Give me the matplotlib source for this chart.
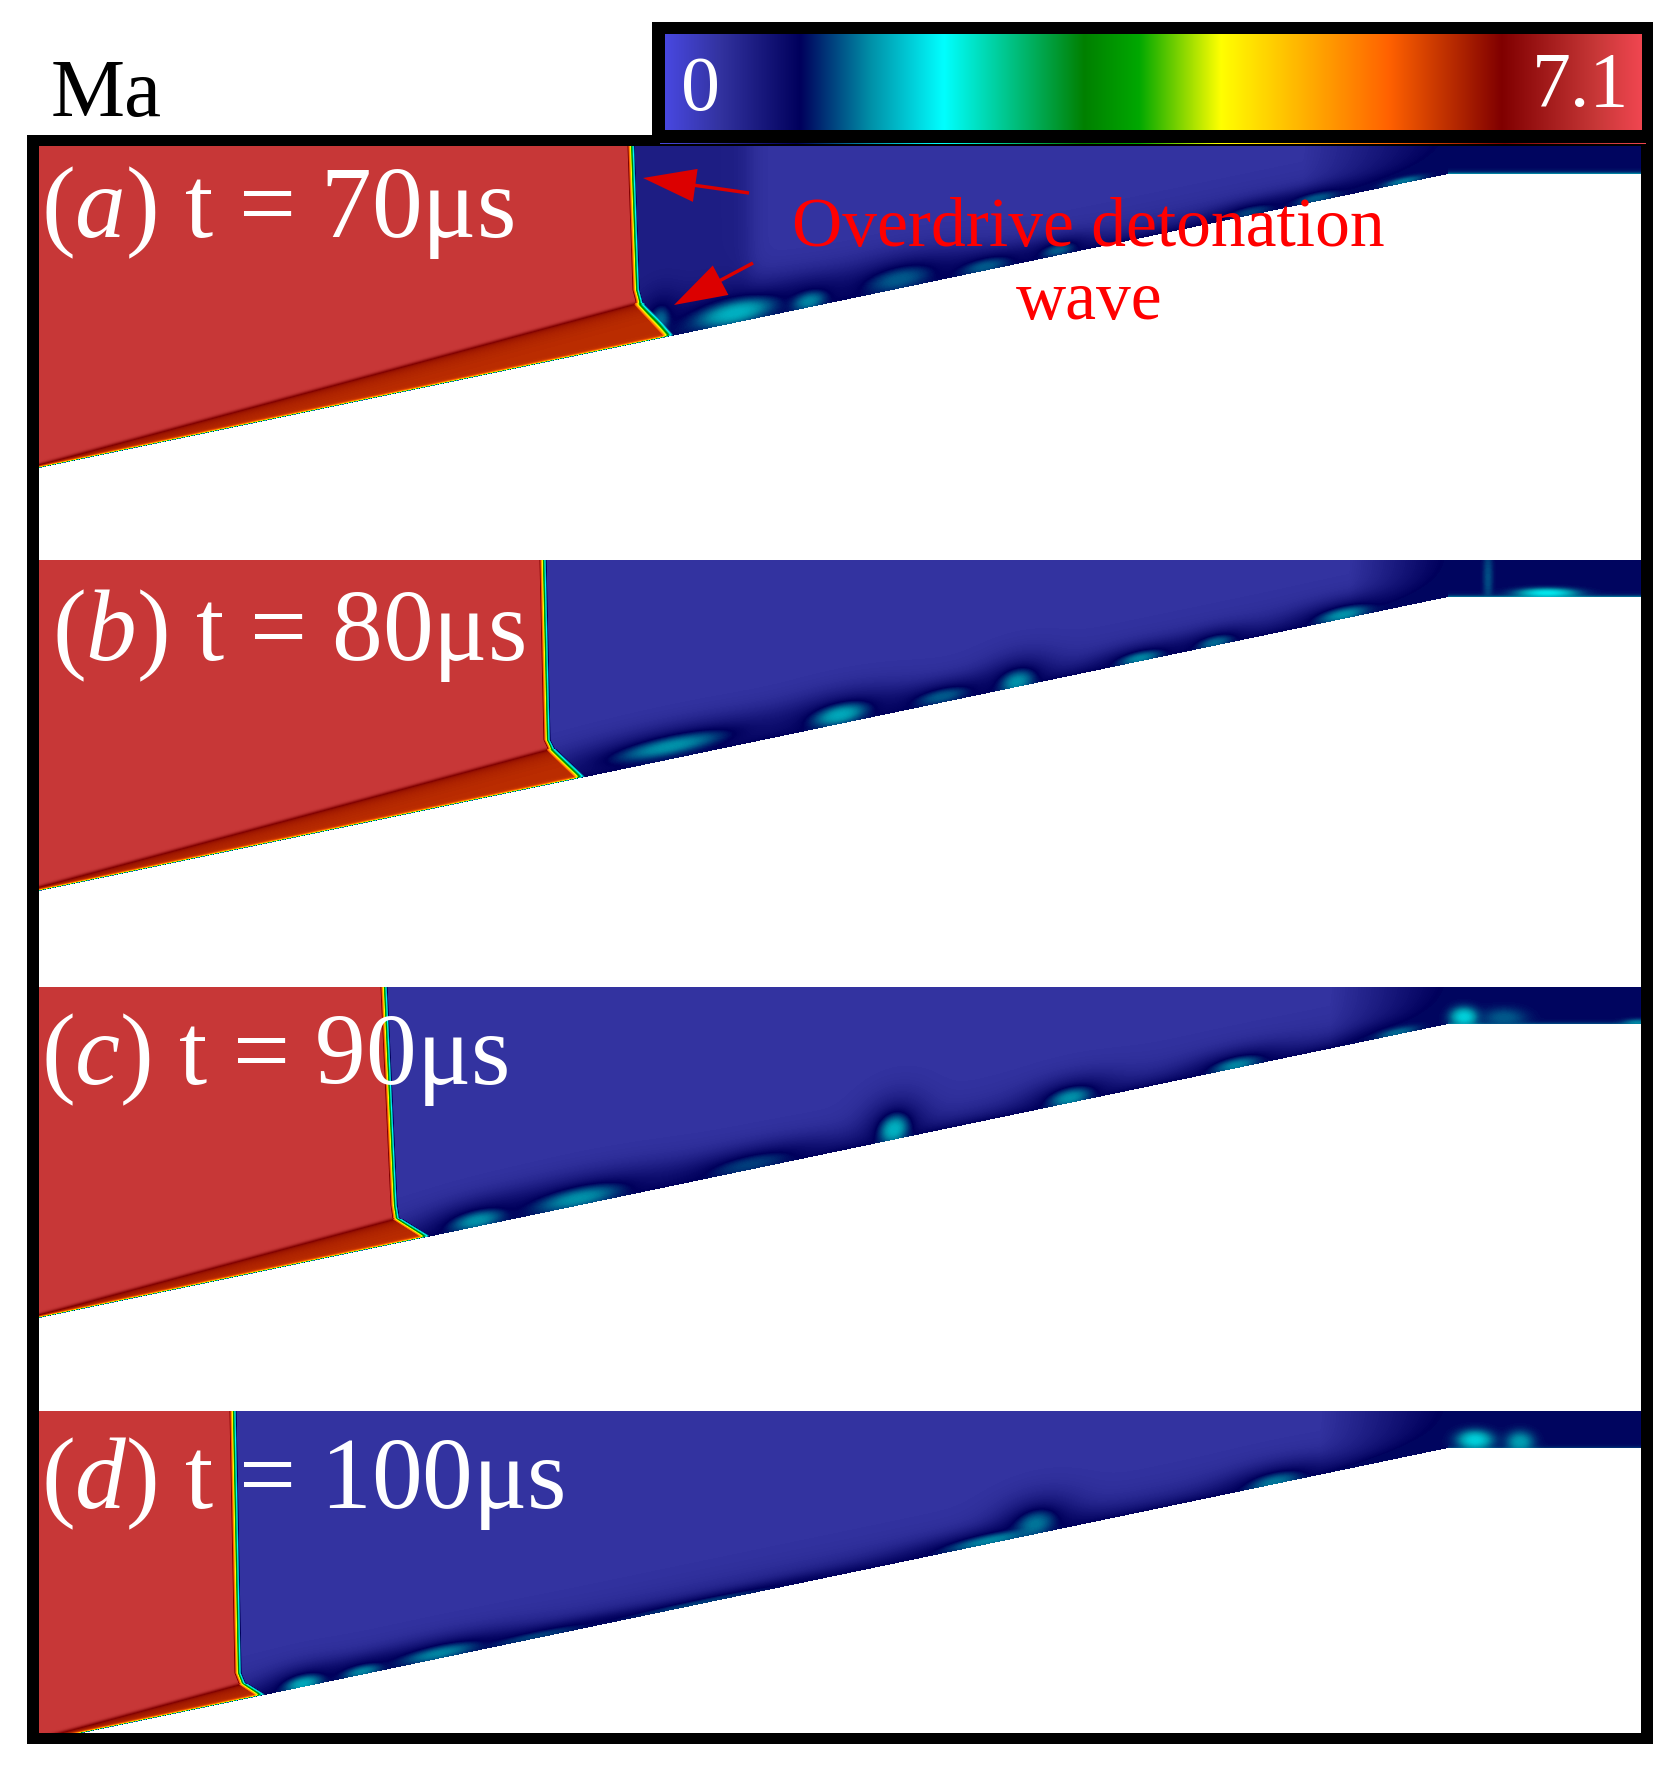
'''
Mach number snapshots of a detonation wave moving up a ramp, four time steps
with a shared colour bar. Everything is placed in image pixels (y down).
'''

import numpy as np
import matplotlib
matplotlib.use('Agg')
import matplotlib.pyplot as plt
from matplotlib.colors import LinearSegmentedColormap
from matplotlib.patches import Rectangle

plt.rcParams['font.family'] = ['Liberation Serif', 'DejaVu Serif']
plt.rcParams['mathtext.fontset'] = 'custom'
plt.rcParams['mathtext.rm'] = 'Liberation Serif'
plt.rcParams['mathtext.it'] = 'Liberation Serif:italic'

MA_MIN = 0.0
MA_MAX = 7.1

# colour bar stops
CMAP_STOPS = [0.0, 0.055, 0.138, 0.21, 0.285, 0.429, 0.485, 0.569, 0.742,
              0.857, 0.955, 1.0]
CMAP_COLORS = ['#4848e0', '#3333a0', '#00005c', '#0090a8', '#00ffff', '#008000',
               '#00a800', '#ffff00', '#ff6100', '#800000', '#c83838', '#f04650']

PANEL_LABELS = ['a', 'b', 'c', 'd']
PANEL_TIMES = [70, 80, 90, 100]

# burnt gas / wedge / fresh gas Mach numbers
MA_BURNT = 6.78
MA_WEDGE = 5.7
MA_FRESH = 0.39
MA_DUCT = 1.0

# panel rows
PANEL_TOP = [146, 560, 987, 1411]
PANEL_FLAT_Y = [174, 597, 1024, 1448]

# detonation front, (x, y) points from the top wall down to the ramp
FRONT_A = [(631, 146), (636, 290), (640, 305), (669, 336)]
FRONT_B = [(543, 560), (547, 740), (552, 750), (581, 778)]
FRONT_C = [(384, 987), (394, 1205), (396, 1218), (426, 1237)]
FRONT_D = [(233, 1411), (238, 1673), (242, 1683), (262, 1696)]

# where the wedge line meets the front
KNEE_A = (635, 303)
KNEE_B = (547, 749)
KNEE_C = (391, 1219)
KNEE_D = (238, 1684)

# pockets behind the front: x, height above the wall, half sizes, peak Mach
BLOBS_A = [(660, 18, 9, 12, 1.35), (735, 10, 38, 12, 1.65), (809, 6, 16, 9, 1.45),
           (899, 9, 30, 11, 1.3), (985, 4, 22, 7, 1.3), (1058, 5, 15, 6, 1.3),
           (1250, 3, 20, 5, 1.2), (1316, 3, 20, 5, 1.3), (1403, 2, 20, 4, 1.4)]
BLOBS_B = [(670, 13, 50, 9, 1.5), (840, 9, 26, 10, 1.6), (942, 6, 24, 7, 1.3),
           (1017, 5, 16, 11, 1.5), (1140, 3, 20, 6, 1.45), (1215, 3, 16, 6, 1.35),
           (1343, 4, 24, 7, 1.5), (1547, 4, 30, 5, 1.9), (1488, 20, 5, 30, 1.25)]
BLOBS_C = [(477, 6, 25, 9, 1.5), (578, 7, 40, 10, 1.5), (750, 5, 35, 8, 1.2),
           (894, 10, 14, 14, 1.65), (1070, 5, 20, 9, 1.5), (1236, 3, 22, 7, 1.45),
           (1397, 2, 20, 5, 1.35), (1464, 7, 14, 10, 1.8), (1504, 6, 22, 10, 1.3),
           (1638, 1, 15, 4, 1.45)]
BLOBS_D = [(303, 3, 18, 8, 1.6), (362, 3, 18, 6, 1.45), (439, 5, 35, 7, 1.45),
           (536, 2, 40, 4, 1.2), (696, 1, 60, 3, 1.2), (990, 3, 40, 6, 1.45),
           (1035, 10, 18, 12, 1.4), (1274, 2, 24, 8, 1.4), (1475, 8, 18, 10, 1.8),
           (1520, 6, 14, 11, 1.55)]

# where the fresh gas starts to darken toward the flat duct
DARKEN_START = [1303, 1349, 1330, 1320]
# Mach number right on the flat wall
FLAT_WALL_MA = [1.6, 1.5, 1.3, 1.2]

# geometry of the frame (pixels)
FRAME = (27, 135, 1653, 1744)
INNER = (39, 146, 1641, 1733)
BAR_BOX = (652, 22, 1653, 146)
BAR = (664.5, 34, 1641, 130)
RAMP_KINK_X = 1448
RAMP_SLOPE = 0.2087
WEDGE_SLOPE = 0.27

FRONTS = [FRONT_A, FRONT_B, FRONT_C, FRONT_D]
KNEES = [KNEE_A, KNEE_B, KNEE_C, KNEE_D]
BLOBS = [BLOBS_A, BLOBS_B, BLOBS_C, BLOBS_D]


def make_cmap():
    return LinearSegmentedColormap.from_list(
        'ma', list(zip(CMAP_STOPS, CMAP_COLORS)), N=512)


def panel_field(i):
    """Build the Mach field of panel i on a one pixel grid."""
    flat_y = PANEL_FLAT_Y[i]
    top = PANEL_TOP[i]
    bottom = min(flat_y + 300, INNER[3])
    xs = np.arange(INNER[0], INNER[2]) + 0.5
    ys = np.arange(top, bottom) + 0.5
    x, y = np.meshgrid(xs, ys)

    wall_y = flat_y + np.maximum(RAMP_KINK_X - x, 0) * RAMP_SLOPE
    d = wall_y - y    # height above the wall
    flat = x > RAMP_KINK_X

    # burnt side: wedge below the line running down from the knee
    knee_x, knee_y = KNEES[i]
    wedge_y = knee_y + (knee_x - x) * WEDGE_SLOPE
    dist = y - wedge_y
    wedge_ma = MA_WEDGE + 0.3 * np.exp(-np.maximum(dist, 0) / 7.0)
    left = MA_BURNT + (wedge_ma - MA_BURNT) * 0.5 * (1 + np.tanh(dist / 1.8))
    left = left * (1 - np.exp(-np.maximum(d, 0) / 0.8))

    # fresh side
    right = np.full_like(x, MA_FRESH)
    right += np.interp(x, [DARKEN_START[i], RAMP_KINK_X], [0, MA_DUCT - MA_FRESH])
    if i == 0:
        # panel a is still a bit darker just ahead of the front
        right += 0.25 * 0.5 * (1 - np.tanh((x - 750) / 12.0))
    band = 0.6 * np.exp(-np.maximum(d, 0) / 11.0)
    band[flat] = 0
    right = np.minimum(right + band, MA_DUCT)
    right[flat] = MA_DUCT + (FLAT_WALL_MA[i] - MA_DUCT) * np.exp(-d[flat] / 1.5)

    for xc, dc, sx, sd, peak in BLOBS[i]:
        r2 = ((x - xc) / sx) ** 2 + ((d - dc) / sd) ** 2
        halo = np.exp(-r2 / 5.0)
        core = np.exp(-r2 ** 1.2)
        right = np.maximum(right, right + (MA_DUCT - right) * halo)
        right = np.maximum(right, right + (peak - right) * core)

    # join both sides across the front, the slanted foot is a bit wider
    front_x = [p[0] for p in FRONTS[i]]
    front_y = [p[1] for p in FRONTS[i]]
    xf = np.interp(y, front_y, front_x)
    w = np.where(y > knee_y, 12.0, 8.0)
    s = np.clip((x - xf + w / 2) / w, 0, 1)
    field = left + (right - left) * s

    return np.ma.masked_where(d < 0, field), (xs[0] - 0.5, xs[-1] + 0.5, ys[-1] + 0.5, ys[0] - 0.5)


def box(ax, rect, color):
    x0, y0, x1, y1 = rect
    ax.add_patch(Rectangle((x0, y0), x1 - x0, y1 - y0, facecolor=color,
                           edgecolor='none', zorder=1))


def main():
    fig = plt.figure(figsize=(16.8, 17.73), dpi=100)
    ax = fig.add_axes([0, 0, 1, 1])
    ax.axis('off')
    cmap = make_cmap()
    cmap.set_bad((1, 1, 1, 0))

    box(ax, FRAME, 'black')
    box(ax, INNER, 'white')
    box(ax, BAR_BOX, 'black')

    # colour bar, plus the thin sliver of it showing under the box
    ramp = np.linspace(MA_MIN, MA_MAX, 512)[None, :]
    ax.imshow(ramp, cmap=cmap, vmin=MA_MIN, vmax=MA_MAX, aspect='auto', zorder=2,
              extent=(BAR[0], BAR[2], BAR[3], BAR[1]), interpolation='bilinear')
    ax.imshow(ramp, cmap=cmap, vmin=MA_MIN, vmax=MA_MAX, aspect='auto', zorder=2,
              extent=(660, 1646, 144, 143), interpolation='bilinear')

    for i in range(4):
        field, extent = panel_field(i)
        ax.imshow(field, cmap=cmap, vmin=MA_MIN, vmax=MA_MAX, aspect='auto',
                  zorder=2, extent=extent, interpolation='nearest')

    ax.set_xlim(0, 1680)
    ax.set_ylim(1773, 0)

    label_x = [41, 52, 41, 41]
    label_y = [237, 660, 1084, 1508]
    for i in range(4):
        ax.text(label_x[i], label_y[i],
                r'($\mathit{%s}$) t = %dμs' % (PANEL_LABELS[i], PANEL_TIMES[i]),
                color='white', fontsize=73, va='baseline', ha='left', zorder=4)

    ax.text(51, 116, 'Ma', color='black', fontsize=60, va='baseline', zorder=4)
    ax.text(681, 110, '0', color='white', fontsize=56, va='baseline', zorder=4)
    ax.text(1532, 106, '7.1', color='white', fontsize=56, va='baseline', zorder=4)

    ax.text(1088, 246, 'Overdrive detonation', color='#ff0000', fontsize=50,
            ha='center', va='baseline', zorder=4)
    ax.text(1089, 319, 'wave', color='#ff0000', fontsize=50,
            ha='center', va='baseline', zorder=4)

    arrow = dict(facecolor='#dc0000', edgecolor='none', width=2.5, headwidth=24,
                 headlength=38, shrink=0, zorder=3)
    ax.annotate('', xy=(643, 178), xytext=(749, 193), arrowprops=arrow, zorder=3)
    ax.annotate('', xy=(674, 305), xytext=(753, 263), arrowprops=arrow, zorder=3)

    fig.savefig('out.png', dpi=100)


if __name__ == '__main__':
    main()
